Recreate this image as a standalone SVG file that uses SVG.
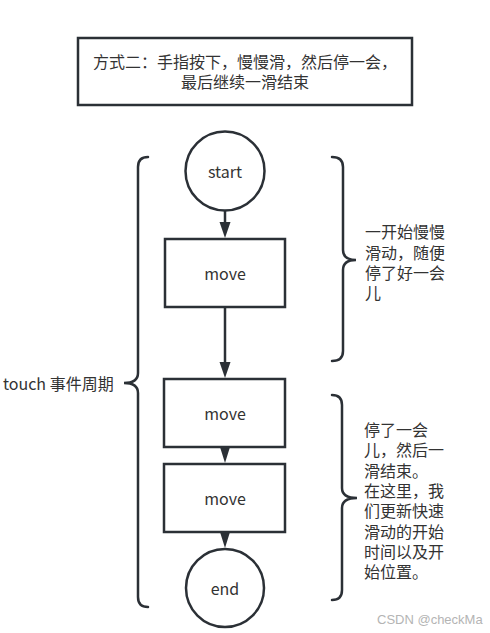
<svg xmlns="http://www.w3.org/2000/svg" width="490" height="633" viewBox="0 0 490 633">
<defs>
<style>
.shape{fill:#ffffff;stroke:#2b3036;stroke-width:2.5}
.brace{fill:none;stroke:#2b3036;stroke-width:2.5;stroke-linecap:round}
.conn{stroke:#2b3036;stroke-width:2.5;fill:none}
.t{font-family:"Noto Sans CJK SC","Noto Sans",sans-serif;font-size:16px;fill:#333333;dominant-baseline:central}
.c{text-anchor:middle}
.wm{font-family:"Liberation Sans",Arial,sans-serif;font-size:13px;fill:#b4b4b4;dominant-baseline:central}
</style>
<marker id="arr" viewBox="0 0 10 16" refX="10" refY="8" markerWidth="16" markerHeight="10" markerUnits="userSpaceOnUse" orient="auto">
<path d="M0,0 L10,8 L0,16 Z" fill="#2b3036" transform="rotate(0)"/>
</marker>
</defs>
<rect width="490" height="633" fill="#ffffff"/>

<g id="title">
<rect class="shape" x="78" y="38" width="334" height="67"/>
<text class="t c" x="245" y="61">方式二：手指按下，慢慢滑，然后停一会，</text>
<text class="t c" x="245" y="81">最后继续一滑结束</text>
</g>

<g id="connectors">
<path class="conn" d="M225,211 L225,222"/>
<path d="M219.5,222 L230.5,222 L225,238 Z" fill="#2b3036"/>
<path class="conn" d="M225,307 L225,362"/>
<path d="M219.5,362 L230.5,362 L225,378 Z" fill="#2b3036"/>
<path d="M220,447 L230,447 L225,463 Z" fill="#2b3036"/>
<path d="M220,532 L230,532 L225,548 Z" fill="#2b3036"/>
</g>

<g id="start">
<circle class="shape" cx="225" cy="171" r="39.5"/>
<text class="t c" x="225" y="171">start</text>
</g>

<g id="move1">
<rect class="shape" x="165" y="239" width="120" height="68"/>
<text class="t c" x="225" y="273">move</text>
</g>

<g id="move2">
<rect class="shape" x="164" y="379" width="121" height="68"/>
<text class="t c" x="225" y="413">move</text>
</g>

<g id="move3">
<rect class="shape" x="164" y="464" width="121" height="68"/>
<text class="t c" x="225" y="498">move</text>
</g>

<g id="end">
<circle class="shape" cx="225" cy="588" r="39"/>
<text class="t c" x="225" y="588">end</text>
</g>

<g id="touch-brace">
<path class="brace" d="M148,157 Q138,157 138,167 L138,373 Q138,383 124,383 Q138,383 138,393 L138,597 Q138,607 148,607"/>
<text class="t" x="3" y="383">touch 事件周期</text>
</g>

<g id="brace1">
<path class="brace" d="M332,157 Q343,157 343,167 L343,250 Q343,260 356,260 Q343,260 343,270 L343,351 Q343,361 332,361"/>
<text class="t" x="365" y="231">一开始慢慢</text>
<text class="t" x="365" y="251.5">滑动，随便</text>
<text class="t" x="365" y="272">停了好一会</text>
<text class="t" x="365" y="292">儿</text>
</g>

<g id="brace2">
<path class="brace" d="M332,395 Q342,395 342,405 L342,488 Q342,498 357,498 Q342,498 342,508 L342,590 Q342,600 332,600"/>
<text class="t" x="364" y="429">停了一会</text>
<text class="t" x="364" y="449.3">儿，然后一</text>
<text class="t" x="364" y="469.6">滑结束。</text>
<text class="t" x="364" y="489.9">在这里，我</text>
<text class="t" x="364" y="510.2">们更新快速</text>
<text class="t" x="364" y="530.5">滑动的开始</text>
<text class="t" x="364" y="550.8">时间以及开</text>
<text class="t" x="364" y="571.1">始位置。</text>
</g>

<text class="wm" x="377" y="619">CSDN @checkMa</text>
</svg>
